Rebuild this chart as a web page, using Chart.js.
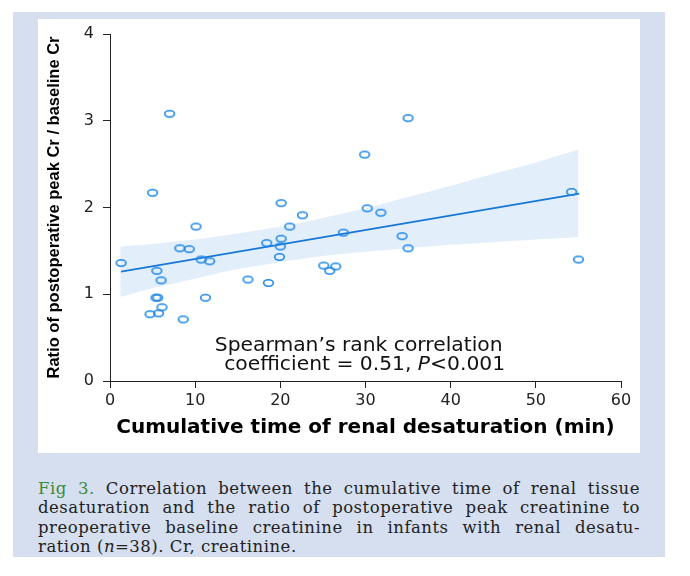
<!DOCTYPE html>
<html><head><meta charset="utf-8">
<script src="https://cdn.jsdelivr.net/npm/chart.js@4.4.1/dist/chart.umd.min.js"></script>
<style>
html,body{margin:0;padding:0;background:#fff;}
body{width:690px;height:576px;position:relative;overflow:hidden;}
#frame{position:absolute;left:13px;top:12px;width:652px;height:545px;background:#d5dff0;}
#panel{position:absolute;left:38px;top:19px;width:602px;height:434px;background:#fff;}
#wrap{position:absolute;left:0;top:0;width:690px;height:460px;}
#cap{position:absolute;left:38px;top:479px;width:602px;font-family:'DejaVu Serif','Liberation Serif',serif;font-size:16.5px;letter-spacing:0.5px;line-height:19.4px;color:#222;}
#cap .j{text-align:justify;text-align-last:justify;}
#cap .fig{color:#3a8a3a;}
</style>
</head><body>
<div id="frame"></div>
<div id="panel"></div>
<div id="wrap"><canvas id="c" width="690" height="460"></canvas></div>
<div id="cap">
<div class="j"><span class="fig">Fig 3.</span> Correlation between the cumulative time of renal tissue</div>
<div class="j">desaturation and the ratio of postoperative peak creatinine to</div>
<div class="j">preoperative baseline creatinine in infants with renal desatu-</div>
<div>ration (<i>n</i>=38). Cr, creatinine.</div>
</div>
<script>
// ---- data ----
const timeMin = [1.3, 5.0, 7.0, 5.5, 6.0, 5.4, 5.6, 6.1, 4.7, 5.7, 8.6, 8.2, 9.3, 10.1, 10.7, 11.7, 11.2, 16.2, 18.6, 18.4, 20.0, 20.1, 19.9, 20.1, 21.1, 22.6, 25.1, 25.8, 26.5, 27.4, 29.9, 30.2, 31.8, 34.3, 35.0, 35.0, 54.2, 55.0];
const crRatio = [1.36, 2.17, 3.08, 1.27, 1.16, 0.96, 0.96, 0.85, 0.77, 0.78, 0.71, 1.53, 1.52, 1.78, 1.40, 1.38, 0.96, 1.17, 1.13, 1.59, 1.55, 1.64, 1.43, 2.05, 1.78, 1.91, 1.33, 1.27, 1.32, 1.71, 2.61, 1.99, 1.94, 1.67, 1.53, 3.03, 2.18, 1.40];
const fitX = [1.3, 55.1];
const fitY = [1.26, 2.16];
const bandX = [1.2, 5, 10, 15, 20, 25, 30, 35, 40, 45, 50, 55];
const bandUpper = [1.55, 1.58, 1.63, 1.70, 1.78, 1.88, 1.99, 2.12, 2.25, 2.39, 2.52, 2.67];
const bandLower = [0.97, 1.07, 1.18, 1.29, 1.37, 1.44, 1.49, 1.53, 1.57, 1.60, 1.63, 1.66];
const xTicks = [0, 10, 20, 30, 40, 50, 60];
const yTicks = [0, 1, 2, 3, 4];
const xTitle = 'Cumulative time of renal desaturation (min)';
const yTitle = 'Ratio of postoperative peak Cr / baseline Cr';
const noteLine1 = 'Spearman\u2019s rank correlation';
const noteLine2 = ['coefficient = 0.51, ', 'P', '<0.001'];

const zip = (xs, ys) => xs.map((v, i) => ({x: v, y: ys[i]}));

// ellipse marker (reference markers are slightly wider than tall)
const mk = document.createElement('canvas');
mk.width = 13; mk.height = 10;
(function(){
  const g = mk.getContext('2d');
  g.strokeStyle = '#1f88e6';
  g.lineWidth = 1.6;
  g.beginPath();
  g.ellipse(6.5, 5, 4.8, 3.2, 0, 0, Math.PI * 2);
  g.stroke();
})();

const notePlugin = {
  id: 'note',
  afterDatasetsDraw(chart) {
    const {ctx, scales: {x, y}} = chart;
    const cx = x.getPixelForValue(29.2);
    ctx.save();
    ctx.fillStyle = '#111';
    ctx.textBaseline = 'middle';
    ctx.textAlign = 'left';
    const f = '20.3px "DejaVu Sans", sans-serif';
    const fi = 'italic 20.3px "DejaVu Sans", sans-serif';
    ctx.font = f;
    const w1 = ctx.measureText(noteLine1).width;
    ctx.fillText(noteLine1, cx - w1 / 2, y.getPixelForValue(0.41));
    const widths = noteLine2.map((s, i) => { ctx.font = i === 1 ? fi : f; return ctx.measureText(s).width; });
    let px = cx - widths.reduce((a, b) => a + b, 0) / 2 + 6;
    const py = y.getPixelForValue(0.19);
    noteLine2.forEach((s, i) => { ctx.font = i === 1 ? fi : f; ctx.fillText(s, px, py); px += widths[i]; });
    ctx.restore();
  }
};

const axisCol = '#222';
new Chart(document.getElementById('c'), {
  type: 'scatter',
  data: {
    datasets: [
      { label: 'points', data: zip(timeMin, crRatio), pointStyle: mk, pointRadius: 5, showLine: false },
      { label: 'fit', data: zip(fitX, fitY), showLine: true, borderColor: '#1877d6', borderWidth: 1.8, pointRadius: 0, fill: false },
      { label: 'upper', data: zip(bandX, bandUpper), showLine: true, borderWidth: 0, borderColor: 'rgba(0,0,0,0)', pointRadius: 0, tension: 0.3, fill: '+1', backgroundColor: '#e3eefb' },
      { label: 'lower', data: zip(bandX, bandLower), showLine: true, borderWidth: 0, borderColor: 'rgba(0,0,0,0)', pointRadius: 0, tension: 0.3, fill: false }
    ]
  },
  options: {
    responsive: false,
    animation: false,
    devicePixelRatio: 1,
    layout: { padding: { left: 0, top: 34, right: 69, bottom: 0 } },
    plugins: { legend: { display: false }, tooltip: { enabled: false } },
    scales: {
      x: {
        type: 'linear', min: 0, max: 60,
        afterBuildTicks: s => { s.ticks = xTicks.map(v => ({value: v})); },
        afterFit: s => { s.height = 79; },
        grid: { display: true, drawOnChartArea: false, drawTicks: true, tickLength: 7, color: axisCol },
        border: { display: true, color: axisCol, width: 1 },
        ticks: { color: '#222', padding: 3, font: { family: '"DejaVu Sans", sans-serif', size: 16 } },
        title: { display: true, text: xTitle, color: '#000', padding: { top: 0, bottom: 20 }, font: { family: '"DejaVu Sans", sans-serif', size: 20, weight: 'bold' } }
      },
      y: {
        type: 'linear', min: 0, max: 4,
        afterBuildTicks: s => { s.ticks = yTicks.map(v => ({value: v})); },
        afterFit: s => { s.width = 110; },
        grid: { display: true, drawOnChartArea: false, drawTicks: true, tickLength: 7, color: axisCol },
        border: { display: true, color: axisCol, width: 1 },
        ticks: { color: '#222', padding: 9, font: { family: '"DejaVu Sans", sans-serif', size: 16 } },
        title: { display: true, text: yTitle, color: '#000', padding: { top: 45, bottom: 0 }, font: { family: '"Liberation Sans", Arial, sans-serif', size: 16.5, weight: 'bold' } }
      }
    }
  },
  plugins: [notePlugin]
});
</script>
</body></html>
